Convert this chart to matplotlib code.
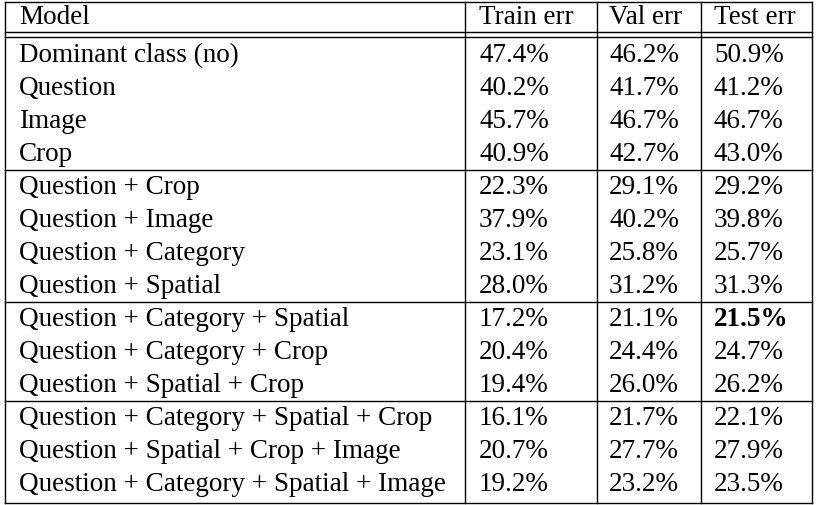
import matplotlib
matplotlib.use("Agg")
import matplotlib.pyplot as plt
from matplotlib import font_manager

header = ["Model", "Train err", "Val err", "Test err"]
models = ["Dominant class (no)", "Question", "Image", "Crop",
          "Question + Crop", "Question + Image", "Question + Category", "Question + Spatial",
          "Question + Category + Spatial", "Question + Category + Crop", "Question + Spatial + Crop",
          "Question + Category + Spatial + Crop", "Question + Spatial + Crop + Image",
          "Question + Category + Spatial + Image"]
train_err = ["47.4%", "40.2%", "45.7%", "40.9%", "22.3%", "37.9%", "23.1%", "28.0%",
             "17.2%", "20.4%", "19.4%", "16.1%", "20.7%", "19.2%"]
val_err = ["46.2%", "41.7%", "46.7%", "42.7%", "29.1%", "40.2%", "25.8%", "31.2%",
           "21.1%", "24.4%", "26.0%", "21.7%", "27.7%", "23.2%"]
test_err = ["50.9%", "41.2%", "46.7%", "43.0%", "29.2%", "39.8%", "25.7%", "31.3%",
            "21.5%", "24.7%", "26.2%", "22.1%", "27.9%", "23.5%"]
bold_cell = 8  # best test error
group_ends = [4, 8, 11]

names = {f.name for f in font_manager.fontManager.ttflist}
serif = "Liberation Serif" if "Liberation Serif" in names else "DejaVu Serif"
plt.rcParams["font.family"] = "serif"
plt.rcParams["font.serif"] = [serif, "DejaVu Serif"]

fig = plt.figure(figsize=(8.19, 5.05), dpi=100)
ax = fig.add_axes([0, 0, 1, 1])
ax.set_xlim(0, 819)
ax.set_ylim(505, 0)
ax.axis("off")

col_x = [5, 465, 597, 701, 812]
text_x = [19, 479, 609, 714]
fs = 17.5 if serif == "DejaVu Serif" else 19.5
lw = 1.0

for x in col_x:
    ax.plot([x, x], [2, 503], color="black", lw=lw)
for yy in [2, 32, 37, 503]:
    ax.plot([col_x[0], col_x[-1]], [yy, yy], color="black", lw=lw)

for j in range(4):
    ax.text(text_x[j], 24, header[j], fontsize=fs, va="baseline")

y = 55
row_h = 33.0
for i, m in enumerate(models):
    if i in group_ends:
        ax.plot([col_x[0], col_x[-1]], [y - row_h / 2 - 0.5] * 2, color="black", lw=lw)
    base = y + 7
    ax.text(text_x[0], base, m, fontsize=fs, va="baseline")
    ax.text(text_x[1], base, train_err[i], fontsize=fs, va="baseline")
    ax.text(text_x[2], base, val_err[i], fontsize=fs, va="baseline")
    ax.text(text_x[3], base, test_err[i], fontsize=fs, va="baseline",
            fontweight="bold" if i == bold_cell else "normal")
    y += row_h

fig.savefig("out.png", dpi=100, facecolor="white")
